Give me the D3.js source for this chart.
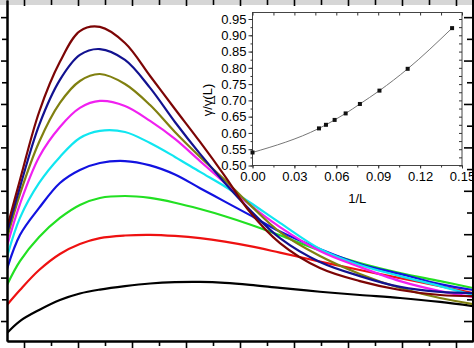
<!DOCTYPE html>
<html><head><meta charset="utf-8">
<script src="https://cdn.jsdelivr.net/npm/d3@7"></script>
<style>html,body{margin:0;padding:0;background:#fff;}svg{display:block;}</style>
</head><body>
<script>
// ---- main chart data ----
const xGrid = [-0.63,-0.15,0.56,1.33,2.07,2.81,3.74,4.67,5.59,6.52,7.44,8.37,9.48,10.96,12.44,13.93,15.41,16.63];
const seriesBlack   = [-0.55,0,0.51,0.97,1.27,1.45,1.61,1.73,1.79,1.80,1.76,1.67,1.53,1.35,1.20,1.06,0.88,0.69];
const seriesRed     = [0.74,1.43,2.35,3.09,3.55,3.82,3.94,3.97,3.92,3.82,3.66,3.45,3.15,2.74,2.35,1.98,1.61,1.29];
const seriesGreen   = [1.66,2.76,3.87,4.75,5.35,5.67,5.76,5.67,5.45,5.16,4.83,4.45,3.95,3.25,2.67,2.21,1.84,1.52];
const seriesBlue    = [2.40,3.96,5.21,6.36,6.96,7.28,7.37,7.17,6.75,6.12,5.50,4.88,4.12,3.32,2.63,2.17,1.70,1.43];
const seriesCyan    = [2.95,4.75,6.36,7.56,8.43,8.76,8.71,8.20,7.56,6.87,6.20,5.46,4.52,3.32,2.58,2.07,1.61,1.20];
const seriesMagenta = [3.46,5.39,7.56,8.94,9.82,10.14,9.91,9.22,8.39,7.37,6.36,5.35,4.33,3.23,2.49,1.84,1.38,1.11];
const seriesOlive   = [3.82,5.85,8.25,10.05,11.06,11.38,10.92,9.95,8.71,7.56,6.50,5.35,4.10,3.00,2.17,1.52,1.06,0.78];
const seriesNavy    = [4.06,6.17,9.03,11.11,12.26,12.53,12.03,10.74,9.17,7.70,6.36,5.11,3.82,2.72,2.07,1.57,1.34,1.29];
const seriesMaroon  = [4.29,6.50,9.63,11.94,13.36,13.55,12.81,11.29,9.77,8.25,6.68,5.02,3.59,2.44,1.84,1.43,1.20,1.15];
const seriesColors  = ["#000000","#ee1111","#22e022","#1212e0","#10e6f0","#f020f0","#808010","#121290","#7c0505"];
const mainXTicks = d3.range(0,17);
const mainYTicks = d3.range(0,15);

// ---- inset data ----
const insetX = [0,0.0476,0.0526,0.0588,0.0667,0.0769,0.0909,0.1111,0.1429];
const insetY = [0.540,0.614,0.625,0.640,0.660,0.689,0.730,0.797,0.922];
const insetXTickLabels = [0,0.03,0.06,0.09,0.12,0.15];
const insetYTickLabels = [0.50,0.55,0.60,0.65,0.70,0.75,0.80,0.85,0.90,0.95];

const W=474,H=348;
const svg=d3.select("body").append("svg").attr("width",W).attr("height",H);
const x=d3.scaleLinear().domain([-0.63,16.63]).range([7,473]);
const y=d3.scaleLinear().domain([-0.92,14.79]).range([341,0]);

// top gray band
svg.append("rect").attr("x",0).attr("y",0).attr("width",W).attr("height",5).attr("fill","#d6d6d6");

const allSeries=[seriesBlack,seriesRed,seriesGreen,seriesBlue,seriesCyan,seriesMagenta,seriesOlive,seriesNavy,seriesMaroon];
const line=d3.line().x(d=>x(d[0])).y(d=>y(d[1])).curve(d3.curveCatmullRom.alpha(0.5));
svg.append("clipPath").attr("id","c").append("rect").attr("x",7).attr("y",0).attr("width",466).attr("height",341);
const g=svg.append("g").attr("clip-path","url(#c)");
allSeries.forEach((s,i)=>{
  g.append("path").attr("d",line(xGrid.map((xv,j)=>[xv,s[j]]))).attr("fill","none")
   .attr("stroke",seriesColors[i]).attr("stroke-width",2.2);
});

function styleAxis(sel,w){sel.selectAll("path").attr("stroke","#000").attr("stroke-width",w);sel.selectAll("line").attr("stroke","#000").attr("stroke-width",1.6);sel.selectAll("text").remove();}
const even=a=>a.filter(v=>v%2===0), odd=a=>a.filter(v=>v%2===1);
// bottom
svg.append("g").attr("transform","translate(0,341)").call(d3.axisBottom(x).tickValues(even(mainXTicks)).tickSize(7).tickSizeOuter(0)).call(s=>styleAxis(s,2));
svg.append("g").attr("transform","translate(0,341)").call(d3.axisBottom(x).tickValues(odd(mainXTicks)).tickSize(5).tickSizeOuter(0)).call(s=>styleAxis(s,2));
// top (ticks inward)
svg.append("g").attr("transform","translate(0,0)").call(d3.axisBottom(x).tickValues(even(mainXTicks)).tickSize(6).tickSizeOuter(0)).call(s=>{styleAxis(s,0);s.select("path").remove();});
svg.append("g").attr("transform","translate(0,0)").call(d3.axisBottom(x).tickValues(odd(mainXTicks)).tickSize(5).tickSizeOuter(0)).call(s=>{styleAxis(s,0);s.select("path").remove();});
// left
svg.append("g").attr("transform","translate(7,0)").call(d3.axisLeft(y).tickValues(even(mainYTicks)).tickSize(6).tickSizeOuter(0)).call(s=>styleAxis(s,2));
svg.append("g").attr("transform","translate(7,0)").call(d3.axisLeft(y).tickValues(odd(mainYTicks)).tickSize(5).tickSizeOuter(0)).call(s=>styleAxis(s,2));
// right (ticks inward)
svg.append("g").attr("transform","translate(473,0)").call(d3.axisLeft(y).tickValues(even(mainYTicks)).tickSize(9).tickSizeOuter(0)).call(s=>styleAxis(s,2));
svg.append("g").attr("transform","translate(473,0)").call(d3.axisLeft(y).tickValues(odd(mainYTicks)).tickSize(6).tickSizeOuter(0)).call(s=>styleAxis(s,2));

// ---- inset ----
const ix=d3.scaleLinear().domain([0,0.15]).range([252.5,462]);
const iy=d3.scaleLinear().domain([0.5,0.97]).range([165.5,12.5]);
const font="'Liberation Sans',Arial,sans-serif";
const ins=svg.append("g");
ins.append("rect").attr("x",ix(0)).attr("y",iy(0.97)).attr("width",ix(0.15)-ix(0)).attr("height",iy(0.5)-iy(0.97)).attr("fill","#fff").attr("stroke","#444").attr("stroke-width",1);
function styleInset(sel,keepText){sel.selectAll("path").remove();sel.selectAll("line").attr("stroke","#333").attr("stroke-width",1);
  if(!keepText) sel.selectAll("text").remove(); else sel.selectAll("text").attr("fill","#000").style("font-family",font).style("font-size","13px");}
const yMinor=d3.range(0.5,0.97,0.025).map(v=>+v.toFixed(3));
const xMinor=d3.range(0,0.1501,0.015).map(v=>+v.toFixed(3));
ins.append("g").attr("transform",`translate(${ix(0)},0)`).call(d3.axisLeft(iy).tickValues(insetYTickLabels).tickSize(4).tickPadding(2).tickFormat(d3.format(".2f"))).call(s=>styleInset(s,true));
ins.append("g").attr("transform",`translate(${ix(0)},0)`).call(d3.axisLeft(iy).tickValues(yMinor).tickSize(2).tickFormat("")).call(s=>styleInset(s,false));
ins.append("g").attr("transform",`translate(${ix(0.15)},0)`).call(d3.axisLeft(iy).tickValues(yMinor).tickSize(3).tickFormat("")).call(s=>styleInset(s,false));
ins.append("g").attr("transform",`translate(0,${iy(0.5)})`).call(d3.axisBottom(ix).tickValues(insetXTickLabels).tickSize(3).tickPadding(3).tickFormat(d3.format(".2f"))).call(s=>styleInset(s,true));
ins.append("g").attr("transform",`translate(0,${iy(0.5)})`).call(d3.axisBottom(ix).tickValues(xMinor).tickSize(2).tickFormat("")).call(s=>styleInset(s,false));
ins.append("g").attr("transform",`translate(0,${iy(0.97)})`).call(d3.axisBottom(ix).tickValues(xMinor).tickSize(3).tickFormat("")).call(s=>styleInset(s,false));
const pts=insetX.map((v,i)=>[v,insetY[i]]);
ins.append("path").attr("d",d3.line().x(d=>ix(d[0])).y(d=>iy(d[1])).curve(d3.curveMonotoneX)(pts)).attr("fill","none").attr("stroke","#777").attr("stroke-width",1);
ins.selectAll("rect.pt").data(pts).join("rect").attr("class","pt").attr("x",d=>ix(d[0])-2).attr("y",d=>iy(d[1])-2).attr("width",4).attr("height",4).attr("fill","#111");
ins.append("text").attr("x",ix(0.075)).attr("y",203).attr("text-anchor","middle").style("font-family",font).style("font-size","13px").text("1/L");
ins.append("text").attr("transform","translate(212,100) rotate(-90)").attr("text-anchor","middle").style("font-family",font).style("font-size","13px").text("γ/γ̲(L)");

// right main axis line drawn last
svg.append("line").attr("x1",473).attr("x2",473).attr("y1",0).attr("y2",341).attr("stroke","#000").attr("stroke-width",2);
</script>
</body></html>
